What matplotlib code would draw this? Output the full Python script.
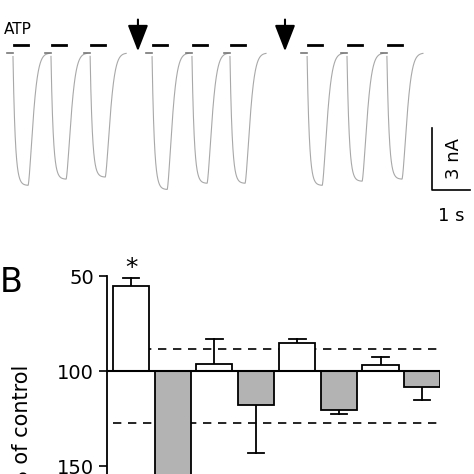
import numpy as np
import matplotlib.pyplot as plt

# --- panel A: ATP-evoked currents ---
onsets_s = [0.34, 1.34, 2.37, 4.0, 5.05, 6.05, 8.08, 9.13, 10.18]   # s
peaks_na = [6.4, 6.1, 6.0, 6.6, 6.3, 6.3, 6.4, 6.2, 6.1]             # nA
atp_dur = 0.4
arrows_s = [3.63, 7.5]

# --- panel B: % of control ---
bar_vals = [55.3, 175, 96, 117.5, 85, 120.5, 97, 108.5]
bar_err = [51, 175, 83, 143, 83, 122.5, 92.5, 115]
bar_colors = ["white", "#b3b3b3"] * 4
dash_levels = [88.5, 127]

fig = plt.figure(figsize=(4.74, 4.74), dpi=100)

axA = fig.add_axes([0, 1 - 240 / 474, 1, 240 / 474])
axA.set_xlim(0, 474 / 38)
axA.set_ylim(-(240 - 53) / 20.7, 53 / 20.7)
axA.axis("off")
for t0, a in zip(onsets_s, peaks_na):
    t = np.linspace(t0 - 0.15, t0 + 0.95, 400)
    y = np.zeros_like(t)
    on = (t >= t0) & (t < t0 + atp_dur)
    y[on] = -a * (1 - np.exp(-(t[on] - t0) / 0.06))
    yend = -a * (1 - np.exp(-atp_dur / 0.06))
    off = t >= t0 + atp_dur
    tt = t[off] - (t0 + atp_dur)
    y[off] = yend * np.exp(-(tt / 0.17) ** 1.5)
    y[t < t0] = np.nan
    axA.plot(t, y, color="#a8a8a8", lw=0.8)
    axA.plot([t0 - 0.15, t0], [0, 0], color="#777777", lw=1.2)
    axA.plot([t0 + 0.03, t0 + atp_dur], [0.4, 0.4], color="black", lw=2)
axA.text(0.1, 0.75, "ATP", fontsize=11, va="bottom")
for xa in arrows_s:
    axA.annotate("", xy=(xa, -0.05), xytext=(xa, 1.75),
                 arrowprops=dict(arrowstyle="-|>,head_length=0.9,head_width=0.35",
                                 color="black", lw=1.5, mutation_scale=18))
# scale bar: 3 nA, 1 s
sx, sy = 432 / 38, -(190 - 53) / 20.7
axA.plot([sx, sx, sx + 1], [sy + 3, sy, sy], color="black", lw=1.2)
axA.text(sx + 0.35, sy + 1.5, "3 nA", rotation=90, fontsize=13, va="center", ha="left")
axA.text(sx + 0.5, sy - 0.8, "1 s", fontsize=13, ha="center", va="top")

# panel B
axB = fig.add_axes([107 / 474, 0, (440 - 107) / 474, (474 - 276) / 474])
x = np.arange(len(bar_vals))
axB.bar(x, np.array(bar_vals) - 100, bottom=100, width=0.87,
        color=bar_colors, edgecolor="black", lw=1.3, zorder=3)
for xi, v, e in zip(x, bar_vals, bar_err):
    axB.plot([xi, xi], [v, e], color="black", lw=1.3, zorder=2)
    axB.plot([xi - 0.2, xi + 0.2], [e, e], color="black", lw=1.3, zorder=2)
for d in dash_levels:
    axB.plot([-0.44, 7.43], [d, d], color="black", lw=1.2, ls=(0, (5, 4)), zorder=1)
axB.axhline(100, color="black", lw=1.5, zorder=4)
axB.text(0, 46, "*", fontsize=18, ha="center", va="center")
axB.set_xlim(-0.58, 7.43)
axB.set_ylim(154, 50)
axB.set_xticks([])
axB.set_yticks([50, 100, 150])
axB.tick_params(axis="y", labelsize=14, length=6, width=1.2)
for s in ["top", "right", "bottom"]:
    axB.spines[s].set_visible(False)
axB.spines["left"].set_linewidth(1.3)
fig.text(0.0, (474 - 283) / 474, "B", fontsize=24, va="center")
fig.text(22 / 474, (474 - 365) / 474, "% of control", rotation=90, fontsize=15,
         ha="center", va="top")

fig.savefig("out.png", dpi=100)
